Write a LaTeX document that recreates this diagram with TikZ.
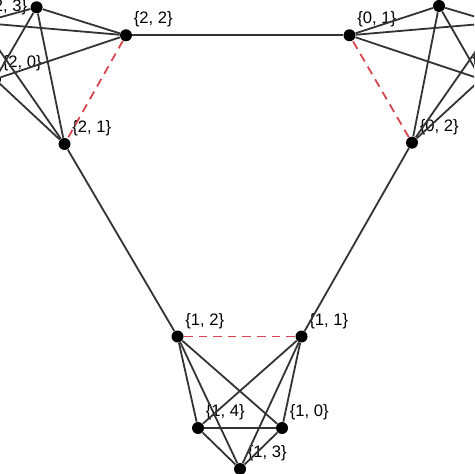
\documentclass[tikz,border=0pt]{standalone}
\usepackage{fontspec}
\setmainfont{Liberation Sans}
\usetikzlibrary{positioning}
\definecolor{ink}{HTML}{333333}
\definecolor{cut}{HTML}{D8444F}
\tikzset{dot/.style={circle,fill=black,inner sep=0pt,minimum size=6pt},link/.style={ink,line width=.9pt},gap/.style={cut,line width=.9pt,dash pattern=on 4.3pt off 3pt},tag/.style={font=\fontsize{8.3}{10}\selectfont,inner sep=1.5pt}}
\begin{document}
\begin{tikzpicture}[x=.5pt,y=-.5pt]
\path[use as bounding box,clip](0,0)rectangle(474,474);
% three groups of five, one missing edge each
\foreach \i/\j/\x/\y in {1/2/177.5/336.5,1/1/301.5/336.5,1/4/198/428,1/0/282/428,1/3/240/469,2/2/126/35.3,2/1/64.5/144,2/0/-5/79.2,2/3/-19.6/22.75,0/2/412/142.7,0/1/349.5/35.3}{\node[dot,label={[tag]above right:\{\i, \j\}}](n\i\j)at(\x,\y){};}
% nodes whose labels fall outside the frame
\foreach \n/\x/\y in {n24/36.6/7.3,n00/439/6,n03/495.6/22.75,n04/481/79.2}{\node[dot](\n)at(\x,\y){};}
\node[tag,anchor=west](t04)at(469,58){\{0, 4\}};
\foreach \g in {0,1,2}{
\foreach \a/\b in {2/4,2/0,2/3,1/4,1/0,1/3,4/0,4/3,0/3}{\draw[link](n\g\a)--(n\g\b);}
\draw[gap](n\g2)--(n\g1);}
% bridges between the groups
\draw[link](n22)--(n01);
\draw[link](n21)--(n12);
\draw[link](n02)--(n11);
\end{tikzpicture}
\end{document}
